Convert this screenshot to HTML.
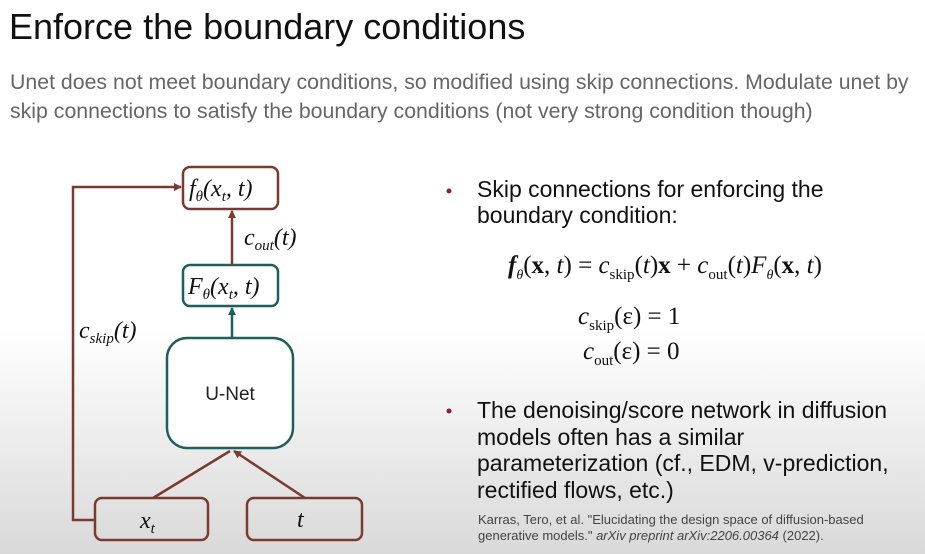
<!DOCTYPE html>
<html><head><style>
body{margin:0;width:925px;height:554px;overflow:hidden;background:linear-gradient(#fff 0,#fff 330px,#d9d9d9 554px);font-family:"Liberation Sans",sans-serif;position:relative}
.a{position:absolute;white-space:nowrap}
.m{font-family:"Liberation Serif",serif;font-style:italic}
</style></head><body>
<div class="a" style="left:9px;top:6px;font-size:36px;color:#111">Enforce the boundary conditions</div>
<div class="a" style="left:10px;top:68px;font-size:21.3px;color:#666;line-height:29px">Unet does not meet boundary conditions, so modified using skip connections. Modulate unet by<br>skip connections to satisfy the boundary conditions (not very strong condition though)</div>
<svg class="a" style="left:0;top:0" width="925" height="554">
<defs><marker id="ab" markerWidth="8" markerHeight="8" refX="7" refY="4" orient="auto" markerUnits="userSpaceOnUse"><path d="M0,0L8,4L0,8z" fill="#7a3a32"/></marker>
<marker id="at" markerWidth="8" markerHeight="8" refX="7" refY="4" orient="auto" markerUnits="userSpaceOnUse"><path d="M0,0L8,4L0,8z" fill="#1f5f5a"/></marker></defs>
<g fill="none" stroke-width="2.5">
<rect x="183" y="167" width="95" height="42" rx="7" stroke="#7a3a32" fill="#fff"/>
<rect x="183" y="265" width="95" height="41" rx="7" stroke="#1f5f5a" fill="#fff"/>
<rect x="167" y="338" width="126" height="110" rx="20" stroke="#1f5f5a" fill="#fff"/>
<rect x="95" y="498" width="113" height="42" rx="7" stroke="#7a3a32"/>
<rect x="247" y="498" width="115" height="42" rx="7" stroke="#7a3a32"/>
<path d="M232 265V211" stroke="#7a3a32" marker-end="url(#ab)"/>
<path d="M232 338V308" stroke="#1f5f5a" marker-end="url(#at)"/>
<path d="M153 498L230 451M305 498L234 451" stroke="#7a3a32" marker-end="url(#ab)"/>
<path d="M95 520H73V187H181" stroke="#7a3a32" marker-end="url(#ab)"/>
</g>
<g font-family="Liberation Serif,serif" font-style="italic" fill="#111" font-size="24">
<text x="189" y="196">f<tspan font-size="15" dy="5">θ</tspan><tspan dy="-5">(x</tspan><tspan font-size="15" dy="5">t</tspan><tspan dy="-5">, t)</tspan></text>
<text x="188" y="294">F<tspan font-size="15" dy="5">θ</tspan><tspan dy="-5">(x</tspan><tspan font-size="15" dy="5">t</tspan><tspan dy="-5">, t)</tspan></text>
<text x="244" y="245">c<tspan font-size="15" dy="5">out</tspan><tspan dy="-5">(t)</tspan></text>
<text x="79" y="338">c<tspan font-size="15" dy="5">skip</tspan><tspan dy="-5">(t)</tspan></text>
<text x="140" y="528">x<tspan font-size="15" dy="5">t</tspan></text>
<text x="297" y="527">t</text>
</g>
<text x="230" y="400" text-anchor="middle" font-family="Liberation Sans,sans-serif" font-size="19" fill="#222">U-Net</text>
<circle cx="449" cy="191" r="2.5" fill="#8b2232"/><circle cx="449" cy="411" r="2.5" fill="#8b2232"/>
</svg>
<div class="a" style="left:477px;top:176px;font-size:23px;line-height:26px;color:#111">Skip connections for enforcing the<br>boundary condition:</div>
<div class="a m" style="left:508px;top:252px;font-size:25px;color:#111"><b>f</b><sub style="font-size:14px">θ</sub><span style="font-style:normal">(<b>x</b>,</span> t<span style="font-style:normal">) = </span>c<sub style="font-size:15px;font-style:normal">skip</sub><span style="font-style:normal">(</span>t<span style="font-style:normal">)<b>x</b> + </span>c<sub style="font-size:15px;font-style:normal">out</sub><span style="font-style:normal">(</span>t<span style="font-style:normal">)</span>F<sub style="font-size:14px">θ</sub><span style="font-style:normal">(<b>x</b>,</span> t<span style="font-style:normal">)</span></div>
<div class="a m" style="left:578px;top:303px;font-size:25px;color:#111">c<sub style="font-size:15px;font-style:normal">skip</sub><span style="font-style:normal">(ε) = 1</span></div>
<div class="a m" style="left:583px;top:338px;font-size:25px;color:#111">c<sub style="font-size:15px;font-style:normal">out</sub><span style="font-style:normal">(ε) = 0</span></div>
<div class="a" style="left:477px;top:397px;font-size:23px;line-height:26.5px;color:#111">The denoising/score network in diffusion<br>models often has a similar<br>parameterization (cf., EDM, v-prediction,<br>rectified flows, etc.)</div>
<div class="a" style="left:478px;top:512px;font-size:13px;line-height:16px;color:#444">Karras, Tero, et al. "Elucidating the design space of diffusion-based<br>generative models." <i>arXiv preprint arXiv:2206.00364</i> (2022).</div>
</body></html>
